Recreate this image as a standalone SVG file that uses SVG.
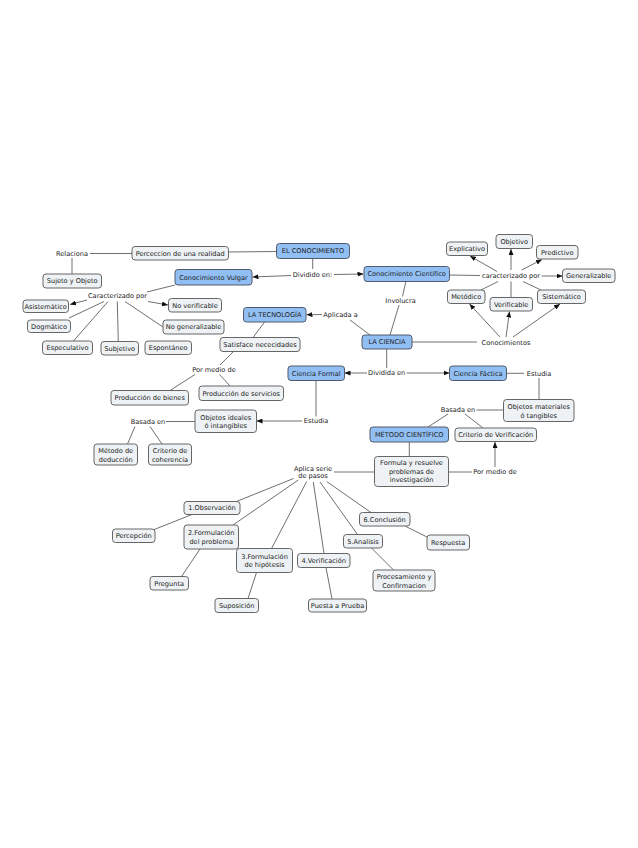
<svg xmlns="http://www.w3.org/2000/svg" width="638" height="848" viewBox="0 0 638 848">
<defs>
<style>
.b{fill:#92bff3;stroke:#505a6a;stroke-width:1}
.l{fill:#eef2f4;stroke:#666;stroke-width:1}
text{font-family:"DejaVu Sans",Verdana,sans-serif;font-size:6.6px;fill:#1b1b1b;text-anchor:middle}
.c line{stroke:#606060;stroke-width:0.9}
.a{marker-end:url(#ah)}
</style>
<marker id="ah" markerUnits="userSpaceOnUse" markerWidth="6" markerHeight="5" refX="6" refY="2.5" orient="auto">
<path d="M0,0 L6,2.5 L0,5 z" fill="#111"/>
</marker>
</defs>
<rect width="638" height="848" fill="#fff"/>
<g id="connectors" class="c">
<line x1="90" y1="253.5" x2="132" y2="253.5"/>
<line x1="228.5" y1="252" x2="276.5" y2="251.5"/>
<line x1="72" y1="258" x2="72" y2="274"/>
<line x1="312.7" y1="258.5" x2="312.7" y2="269"/>
<line class="a" x1="291" y1="275.5" x2="252.5" y2="277"/>
<line class="a" x1="334" y1="274.5" x2="363.5" y2="274"/>
<line x1="175" y1="285" x2="147" y2="292"/>
<line class="a" x1="87" y1="300" x2="70" y2="304.5"/>
<line class="a" x1="148" y1="301.5" x2="168" y2="305"/>
<line x1="104" y1="301.5" x2="69" y2="318"/>
<line x1="108" y1="301.5" x2="73.5" y2="341"/>
<line x1="117.3" y1="301.5" x2="118.3" y2="341.5"/>
<line x1="125" y1="301.5" x2="163" y2="327"/>
<line x1="265" y1="321.5" x2="253" y2="337.5"/>
<line class="a" x1="322" y1="314.5" x2="306.5" y2="314.7"/>
<line x1="370" y1="335" x2="350" y2="320"/>
<line x1="406" y1="281" x2="402.5" y2="296.5"/>
<line x1="399" y1="305" x2="390" y2="335"/>
<line x1="412" y1="342" x2="477" y2="342"/>
<line class="a" x1="500" y1="337" x2="469.5" y2="304"/>
<line class="a" x1="506" y1="337" x2="509.5" y2="311.5"/>
<line class="a" x1="513" y1="337" x2="560" y2="304"/>
<line x1="449.5" y1="275" x2="480" y2="275.5"/>
<line class="a" x1="541.5" y1="276" x2="562.5" y2="276"/>
<line class="a" x1="497" y1="271.5" x2="470" y2="256"/>
<line class="a" x1="511" y1="270" x2="511" y2="249"/>
<line class="a" x1="521.7" y1="270" x2="542" y2="259.5"/>
<line x1="498" y1="281.5" x2="481" y2="290"/>
<line x1="511" y1="281.5" x2="511" y2="297.5"/>
<line x1="523" y1="281.5" x2="541" y2="290"/>
<line x1="233.5" y1="351.5" x2="220" y2="365"/>
<line x1="195" y1="374.5" x2="170" y2="390.5"/>
<line x1="219.5" y1="374.5" x2="230" y2="386"/>
<line x1="386.7" y1="349" x2="386.7" y2="368"/>
<line class="a" x1="367" y1="373" x2="344.5" y2="373"/>
<line class="a" x1="406.5" y1="373" x2="449.5" y2="373"/>
<line x1="316" y1="380.5" x2="316" y2="416.5"/>
<line class="a" x1="302" y1="421" x2="256.5" y2="421"/>
<line x1="195" y1="421.5" x2="166" y2="421.5"/>
<line x1="135" y1="426.5" x2="127.5" y2="444"/>
<line x1="150" y1="426.5" x2="162" y2="444"/>
<line x1="507" y1="373.3" x2="524" y2="373.3"/>
<line x1="539" y1="378" x2="539" y2="399.5"/>
<line x1="503.5" y1="410" x2="476.5" y2="410"/>
<line x1="448" y1="414" x2="428" y2="427"/>
<line x1="465" y1="414" x2="483" y2="428"/>
<line x1="409.3" y1="442" x2="409.3" y2="456.5"/>
<line x1="448.5" y1="472" x2="472" y2="472"/>
<line class="a" x1="495" y1="467" x2="495" y2="442"/>
<line x1="334" y1="472" x2="374.5" y2="472"/>
<line x1="293.5" y1="478.5" x2="236.5" y2="501.5"/>
<line x1="192" y1="514.5" x2="153" y2="530"/>
<line x1="298.3" y1="480" x2="233" y2="525"/>
<line x1="200" y1="549" x2="181.5" y2="576.5"/>
<line x1="306.7" y1="481.5" x2="271.5" y2="548.5"/>
<line x1="256.5" y1="572.5" x2="248" y2="598.5"/>
<line x1="313.3" y1="482" x2="324" y2="553.5"/>
<line x1="326" y1="567.5" x2="332" y2="599"/>
<line x1="320" y1="482" x2="357.5" y2="534.5"/>
<line x1="371.5" y1="548" x2="393.5" y2="570"/>
<line x1="326.7" y1="481.5" x2="371" y2="512.5"/>
<line x1="405" y1="526" x2="427" y2="537"/>
</g>
<g id="linking-phrases">
<text x="72" y="255.8">Relaciona</text>
<text x="312.5" y="276.8">Dividido en:</text>
<text x="117.5" y="298.3">Caracterizado por</text>
<text x="511" y="278.3">caracterizado por</text>
<text x="400.5" y="303.3">Involucra</text>
<text x="340.5" y="316.8">Aplicada a</text>
<text x="506" y="344.8">Conocimientos</text>
<text x="214" y="371.8">Por medio de</text>
<text x="386.7" y="375.3">Dividida en</text>
<text x="316" y="423.3">Estudia</text>
<text x="539" y="375.8">Estudia</text>
<text x="148" y="424.3">Basada en</text>
<text x="458" y="412.3">Basada en</text>
<text x="495" y="474.3">Por medio de</text>
<text x="313" y="470.8">Aplica serie</text>
<text x="313" y="478.3">de pasos</text>
</g>
<g id="n-conocimiento"><rect class="b" x="276.5" y="243.5" width="73" height="15" rx="3"/><text x="313" y="253.3">EL CONOCIMIENTO</text></g>
<g id="n-vulgar"><rect class="b" x="175" y="269.5" width="77" height="15.5" rx="3"/><text x="213.5" y="279.6">Conocimiento Vulgar</text></g>
<g id="n-cientifico"><rect class="b" x="364" y="266.5" width="85.5" height="15" rx="3"/><text x="406.7" y="276.3">Conocimiento Cientifico</text></g>
<g id="n-tecnologia"><rect class="b" x="243.5" y="307.5" width="62.5" height="14.5" rx="3"/><text x="274.7" y="317">LA TECNOLOGÍA</text></g>
<g id="n-ciencia"><rect class="b" x="362" y="335" width="50" height="14" rx="3"/><text x="387" y="344.3">LA CIENCIA</text></g>
<g id="n-formal"><rect class="b" x="288" y="366" width="56.5" height="14.5" rx="3"/><text x="316.2" y="375.5">Ciencia Formal</text></g>
<g id="n-factica"><rect class="b" x="449.5" y="366" width="57" height="14.5" rx="3"/><text x="478" y="375.5">Ciencia Fáctica</text></g>
<g id="n-metodo"><rect class="b" x="370" y="427" width="78.5" height="15" rx="3"/><text x="409.2" y="436.8">MÉTODO CIENTÍFICO</text></g>
<g id="n-perceccion"><rect class="l" x="132" y="246.5" width="96.5" height="13.5" rx="3"/><text x="180.2" y="255.5">Perceccion de una realidad</text></g>
<g id="n-sujeto"><rect class="l" x="43" y="274" width="58.5" height="14" rx="3"/><text x="72.2" y="283.3">Sujeto y Objeto</text></g>
<g id="n-asistematico"><rect class="l" x="23" y="300" width="45.5" height="12.5" rx="3"/><text x="45.7" y="308.5">Asistemático</text></g>
<g id="n-noverificable"><rect class="l" x="168.5" y="298.5" width="53" height="13.5" rx="3"/><text x="195" y="307.5">No verificable</text></g>
<g id="n-dogmatico"><rect class="l" x="27.5" y="320" width="43" height="12.5" rx="3"/><text x="49" y="328.5">Dogmático</text></g>
<g id="n-nogeneralizable"><rect class="l" x="163" y="320" width="61" height="14" rx="3"/><text x="193.5" y="329.3">No generalizable</text></g>
<g id="n-especulativo"><rect class="l" x="42.5" y="341" width="50" height="13.5" rx="3"/><text x="67.5" y="350">Especulativo</text></g>
<g id="n-subjetivo"><rect class="l" x="101" y="341.5" width="37.5" height="13.5" rx="3"/><text x="119.7" y="350.5">Subjetivo</text></g>
<g id="n-espontaneo"><rect class="l" x="145" y="341" width="46.5" height="13.5" rx="3"/><text x="168.2" y="350">Espontáneo</text></g>
<g id="n-satisface"><rect class="l" x="220" y="337.5" width="80" height="14" rx="3"/><text x="260" y="346.8">Satisface nececidades</text></g>
<g id="n-bienes"><rect class="l" x="111" y="390.5" width="77.5" height="14.5" rx="3"/><text x="149.7" y="400">Producción de bienes</text></g>
<g id="n-servicios"><rect class="l" x="199" y="386" width="84.5" height="14.5" rx="3"/><text x="241.2" y="395.5">Producción de servicios</text></g>
<g id="n-ideales"><rect class="l" x="195" y="410" width="61.5" height="22.5" rx="3"/><text x="225.7" y="419.8">Objetos ideales</text><text x="225.7" y="428.3">ó intangibles</text></g>
<g id="n-deduccion"><rect class="l" x="94" y="444" width="43.5" height="21" rx="3"/><text x="115.7" y="453.3">Método de</text><text x="115.7" y="461.8">deducción</text></g>
<g id="n-coherencia"><rect class="l" x="148.5" y="444" width="43" height="21" rx="3"/><text x="170" y="453.3">Criterio de</text><text x="170" y="461.8">coherencia</text></g>
<g id="n-explicativo"><rect class="l" x="446.5" y="242" width="41" height="13.5" rx="3"/><text x="467" y="251">Explicativo</text></g>
<g id="n-objetivo"><rect class="l" x="496" y="234.5" width="36.5" height="14" rx="3"/><text x="514.2" y="243.8">Objetivo</text></g>
<g id="n-predictivo"><rect class="l" x="536.5" y="245.5" width="41.5" height="13.5" rx="3"/><text x="557.2" y="254.5">Predictivo</text></g>
<g id="n-generalizable"><rect class="l" x="562.5" y="269" width="52.5" height="13.5" rx="3"/><text x="588.7" y="278">Generalizable</text></g>
<g id="n-metodico"><rect class="l" x="447.5" y="290" width="37.5" height="13.5" rx="3"/><text x="466.2" y="299">Metódico</text></g>
<g id="n-verificable"><rect class="l" x="490" y="297.5" width="42.5" height="13.5" rx="3"/><text x="511.2" y="306.5">Verificable</text></g>
<g id="n-sistematico"><rect class="l" x="537.5" y="290" width="48" height="13.5" rx="3"/><text x="561.5" y="299">Sistemático</text></g>
<g id="n-materiales"><rect class="l" x="503.5" y="399.5" width="70.5" height="22" rx="3"/><text x="538.7" y="409">Objetos materiales</text><text x="538.7" y="417.5">ó tangibles</text></g>
<g id="n-criterioverif"><rect class="l" x="455" y="428" width="81.5" height="13.5" rx="3"/><text x="495.7" y="437">Criterio de Verificación</text></g>
<g id="n-formula"><rect class="l" x="374.5" y="456.5" width="74" height="30" rx="3"/><text x="411.5" y="465.3">Formula y resuelve</text><text x="411.5" y="473.8">problemas de</text><text x="411.5" y="482.3">investigación</text></g>
<g id="n-observacion"><rect class="l" x="184" y="501.5" width="56" height="13" rx="3"/><text x="212" y="510.3">1.Observación</text></g>
<g id="n-percepcion"><rect class="l" x="112.5" y="529" width="42.5" height="13.5" rx="3"/><text x="133.7" y="538">Percepción</text></g>
<g id="n-formproblema"><rect class="l" x="184" y="525" width="54.5" height="24" rx="3"/><text x="211.2" y="535.3">2.Formulación</text><text x="211.2" y="543.8">del problema</text></g>
<g id="n-pregunta"><rect class="l" x="150" y="576.5" width="38.5" height="13.5" rx="3"/><text x="169.2" y="585.5">Pregunta</text></g>
<g id="n-formhipotesis"><rect class="l" x="236.5" y="548.5" width="56" height="24" rx="3"/><text x="264.5" y="558.8">3.Formulación</text><text x="264.5" y="567.3">de hipótesis</text></g>
<g id="n-suposicion"><rect class="l" x="215" y="598.5" width="43.5" height="14" rx="3"/><text x="236.7" y="607.8">Suposición</text></g>
<g id="n-verificacion"><rect class="l" x="297.5" y="553.5" width="52.5" height="14" rx="3"/><text x="323.7" y="562.8">4.Verificación</text></g>
<g id="n-puesta"><rect class="l" x="308.5" y="599" width="58" height="13" rx="3"/><text x="337.5" y="607.8">Puesta a Prueba</text></g>
<g id="n-analisis"><rect class="l" x="343.5" y="534.5" width="39" height="13.5" rx="3"/><text x="363" y="543.5">5.Analisis</text></g>
<g id="n-conclusion"><rect class="l" x="359.5" y="512.5" width="50.5" height="13.5" rx="3"/><text x="384.7" y="521.5">6.Conclusión</text></g>
<g id="n-respuesta"><rect class="l" x="427" y="535" width="42.5" height="15" rx="3"/><text x="448.2" y="544.8">Respuesta</text></g>
<g id="n-procesamiento"><rect class="l" x="373" y="570" width="62" height="21" rx="3"/><text x="404" y="579.3">Procesamiento y</text><text x="404" y="587.8">Confirmacion</text></g>
</svg>
